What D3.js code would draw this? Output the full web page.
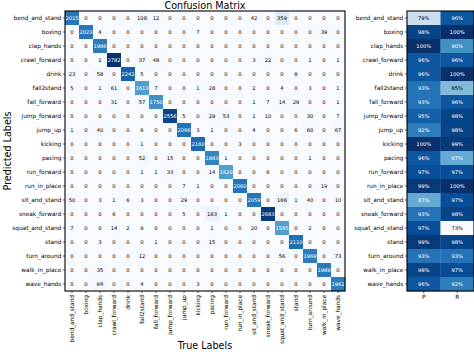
<!DOCTYPE html>
<html><head><meta charset="utf-8">
<script src="https://cdn.jsdelivr.net/npm/d3@7"></script>
<style>
body{margin:0;background:#fff;}
svg{display:block;font-family:"DejaVu Sans",sans-serif;}
</style></head>
<body>
<svg id="chart" width="474" height="354"></svg>
<script>
const labels = ["bend_and_stand","boxing","clap_hands","crawl_forward","drink","fall2stand","fall_forward","jump_forward","jump_up","kicking","pacing","run_forward","run_in_place","sit_and_stand","sneak_forward","squat_and_stand","stand","turn_around","walk_in_place","wave_hands"];
// rows = predicted labels, columns = true labels
const matrix = [
 [2015,0,0,0,0,108,12,0,0,0, 0,0,0,42,0,359,0,0,0,0],
 [0,2023,4,0,0,0,0,0,0,7, 0,0,0,0,0,0,0,0,39,0],
 [0,0,1986,0,0,0,0,0,0,0, 0,0,0,0,0,0,0,0,0,0],
 [0,0,2,2782,0,37,48,0,0,0, 0,0,0,3,22,0,0,1,0,1],
 [23,0,58,0,2242,5,0,0,0,0, 0,0,0,0,0,0,8,0,0,0],
 [5,0,1,61,0,1613,7,0,0,1, 28,0,0,2,0,4,0,3,0,1],
 [0,0,0,31,0,57,1750,0,0,0, 0,0,0,1,7,14,29,0,0,1],
 [0,0,0,0,0,0,0,2556,5,0, 29,53,0,1,10,0,0,30,0,7],
 [1,0,40,0,0,6,0,0,2066,3, 1,0,0,4,0,0,6,60,0,67],
 [0,0,0,0,0,1,0,0,0,2160, 0,0,3,0,0,0,0,0,0,0],
 [0,0,0,0,0,52,0,15,0,0, 1883,1,0,0,0,0,0,1,0,0],
 [0,0,0,0,0,1,1,33,0,0, 14,1620,0,0,6,0,0,0,0,0],
 [0,0,0,0,0,0,0,0,7,1, 0,0,2060,0,0,0,0,0,19,0],
 [50,0,3,1,6,3,0,0,29,0, 0,0,0,2059,0,166,1,40,0,10],
 [0,0,0,6,0,0,0,0,5,0, 183,1,0,0,2683,0,0,0,0,0],
 [7,0,0,14,2,9,0,0,0,0, 1,0,0,20,0,1585,0,2,0,0],
 [0,0,3,0,0,0,1,0,0,0, 15,0,0,0,0,0,2110,0,0,0],
 [0,0,0,0,0,12,0,0,0,0, 0,0,0,0,0,56,0,1969,0,73],
 [0,0,35,0,0,0,0,0,0,0, 0,0,0,0,0,0,0,0,1989,0],
 [0,0,64,0,0,4,0,0,0,3, 0,0,0,0,0,0,0,0,0,1961]
];
const prCols = ["P","R"];
const precision = [79,98,100,96,96,93,93,95,92,100,96,97,99,87,93,97,99,93,98,96];
const recall    = [96,100,90,96,100,85,96,98,98,99,87,97,100,97,98,73,98,93,97,92];

const blues = ["#f7fbff","#deebf7","#c6dbef","#9ecae1","#6baed6","#4292c6","#2171b5","#08519c","#08306b"];
function cmap(lo, hi){
  const dom = blues.map((_,i)=> lo + (hi-lo)*i/(blues.length-1));
  return d3.scaleLinear().domain(dom).range(blues).interpolate(d3.interpolateRgb).clamp(true);
}

const svg = d3.select("#chart");
const M = {x0:65, x1:345, y0:11, y1:291};
const x = d3.scaleBand().domain(labels).range([M.x0, M.x1]);
const y = d3.scaleBand().domain(labels).range([M.y0, M.y1]);
const maxV = d3.max(matrix.flat());
const col = cmap(0, maxV);

const cells = [];
matrix.forEach((row,i)=>row.forEach((v,j)=>cells.push({r:labels[i], c:labels[j], v})));

const g = svg.append("g");
g.selectAll("rect.cell").data(cells).join("rect")
  .attr("x", d=>x(d.c)).attr("y", d=>y(d.r))
  .attr("width", x.bandwidth()+0.3).attr("height", y.bandwidth()+0.3)
  .attr("fill", d=>col(d.v));
g.selectAll("text.val").data(cells).join("text")
  .attr("x", d=>x(d.c)+x.bandwidth()/2).attr("y", d=>y(d.r)+y.bandwidth()/2)
  .attr("dy","0.36em").attr("text-anchor","middle")
  .attr("font-size", 5.2)
  .attr("fill", d=> d.v > maxV/2 ? "#ffffff" : "#000000")
  .text(d=>d.v);
g.append("rect").attr("x",M.x0).attr("y",M.y0).attr("width",M.x1-M.x0).attr("height",M.y1-M.y0)
  .attr("fill","none").attr("stroke","#000").attr("stroke-width",1.1);

const yAx = svg.append("g").attr("transform",`translate(${M.x0},0)`)
  .call(d3.axisLeft(y).tickSize(2.2).tickPadding(1.5));
const xAx = svg.append("g").attr("transform",`translate(0,${M.y1})`)
  .call(d3.axisBottom(x).tickSize(2.2).tickPadding(1.5));
[yAx,xAx].forEach(a=>{a.select(".domain").remove(); a.selectAll("text").attr("font-size",5.8).attr("font-family","DejaVu Sans").attr("fill","#000"); a.selectAll("line").attr("stroke","#000").attr("stroke-width",0.6);});
xAx.selectAll("text").attr("transform","rotate(-90)").attr("text-anchor","end")
  .attr("x",-4).attr("y",0).attr("dy","0.35em");

svg.append("text").attr("x",(M.x0+M.x1)/2).attr("y",9).attr("text-anchor","middle")
  .attr("font-size",9.6).text("Confusion Matrix");
svg.append("text").attr("x",(M.x0+M.x1)/2).attr("y",349).attr("text-anchor","middle")
  .attr("font-size",9.6).text("True Labels");
svg.append("text").attr("transform",`translate(11,${(M.y0+M.y1)/2}) rotate(-90)`).attr("text-anchor","middle")
  .attr("font-size",9.6).text("Predicted Labels");

// P/R panel
const P = {x0:407, x1:474};
const px = d3.scaleBand().domain(prCols).range([P.x0, P.x1]);
const pcol = cmap(73, 100);
const prCells = [];
labels.forEach((l,i)=>{prCells.push({r:l,c:"P",v:precision[i]}); prCells.push({r:l,c:"R",v:recall[i]});});
const pMin = d3.min(prCells,d=>d.v), pMax = d3.max(prCells,d=>d.v);
const pg = svg.append("g");
pg.selectAll("rect").data(prCells).join("rect")
  .attr("x",d=>px(d.c)).attr("y",d=>y(d.r))
  .attr("width",px.bandwidth()+0.3).attr("height",y.bandwidth()+0.3)
  .attr("fill",d=>pcol(d.v));
pg.selectAll("text").data(prCells).join("text")
  .attr("x",d=>px(d.c)+px.bandwidth()/2).attr("y",d=>y(d.r)+y.bandwidth()/2)
  .attr("dy","0.36em").attr("text-anchor","middle").attr("font-size",5.2)
  .attr("fill",d=> d.v > (pMin+pMax)/2 ? "#ffffff" : "#000000")
  .text(d=>d.v+"%");
pg.append("rect").attr("x",P.x0).attr("y",M.y0).attr("width",P.x1-P.x0).attr("height",M.y1-M.y0)
  .attr("fill","none").attr("stroke","#000").attr("stroke-width",1.1);
const pyAx = svg.append("g").attr("transform",`translate(${P.x0},0)`)
  .call(d3.axisLeft(y).tickSize(2.2).tickPadding(1.5));
const pxAx = svg.append("g").attr("transform",`translate(0,${M.y1})`)
  .call(d3.axisBottom(px).tickSize(2.2).tickPadding(1.5));
[pyAx,pxAx].forEach(a=>{a.select(".domain").remove(); a.selectAll("text").attr("font-size",5.8).attr("font-family","DejaVu Sans").attr("fill","#000"); a.selectAll("line").attr("stroke","#000").attr("stroke-width",0.6);});
</script>
</body></html>
